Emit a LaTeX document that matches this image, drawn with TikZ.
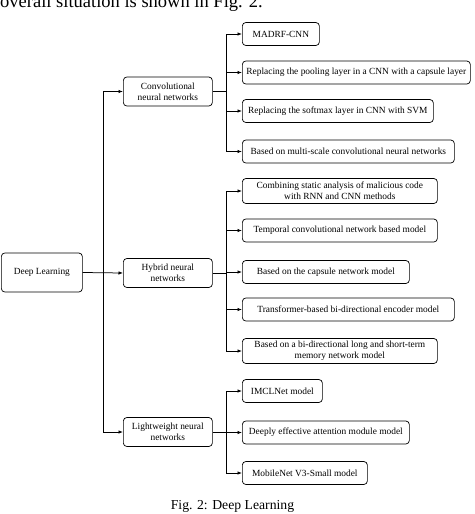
\documentclass[tikz,border=0pt]{standalone}
\usepackage{fontspec}
\setmainfont{Liberation Serif}
\usetikzlibrary{arrows.meta}
\begin{document}
\begin{tikzpicture}[x=1pt,y=-1pt,
  box/.style={draw, rounded corners=3.5pt, line width=0.7pt, inner sep=1pt, align=center,
    font=\fontsize{9.4}{10.6}\selectfont, anchor=west},
  rbox/.style={box, minimum height=23},
  rbox2/.style={box, minimum height=25},
  lbox/.style={box, minimum width=89, minimum height=29},
  arr/.style={line width=0.75pt, -{Latex[length=4.5pt,width=3.5pt]}},
  ln/.style={line width=0.75pt}]
\useasboundingbox (0,0) rectangle (474,514);
% header and caption
\node[anchor=base west, inner sep=0, font=\fontsize{18.5}{20}\selectfont] (top) at (0,7) {overall situation is shown in Fig. 2.};
\node[anchor=base, inner sep=0, font=\fontsize{13.7}{15}\selectfont] (cap) at (232.5,509) {Fig. 2: Deep Learning};
% left column
\node[box, minimum width=81, minimum height=39] (dl) at (1,272.5) {Deep Learning};
\node[lbox] (cnn) at (123,91.5) {Convolutional\\neural networks};
\node[lbox] (hy) at (123,273) {Hybrid neural\\networks};
\node[lbox] (lw) at (123,432) {Lightweight neural\\networks};
% CNN group
\node[rbox, minimum width=77] (c1) at (242,34) {MADRF-CNN};
\node[rbox, minimum width=228] (c2) at (242,72.5) {Replacing the pooling layer in a CNN with a capsule layer};
\node[rbox, minimum width=191] (c3) at (242,111) {Replacing the softmax layer in CNN with SVM};
\node[rbox, minimum width=212] (c4) at (242,151.5) {Based on multi-scale convolutional neural networks};
% hybrid group
\node[rbox2, minimum width=195] (h1) at (242,191) {Combining static analysis of malicious code\\with RNN and CNN methods};
\node[rbox, minimum width=195] (h2) at (242,230.5) {Temporal convolutional network based model};
\node[rbox, minimum width=167] (h3) at (242,272) {Based on the capsule network model};
\node[rbox, minimum width=212] (h4) at (242,309.5) {Transformer-based bi-directional encoder model};
\node[rbox2, minimum width=195] (h5) at (242,351) {Based on a bi-directional long and short-term\\memory network model};
% lightweight group
\node[rbox, minimum width=80] (l1) at (242,391) {IMCLNet model};
\node[rbox, minimum width=167] (l2) at (242,432.5) {Deeply effective attention module model};
\node[rbox, minimum width=125] (l3) at (242,473) {MobileNet V3-Small model};
% junctions
\coordinate (j0) at (103,272.5);
\coordinate (jc) at (226,91.5);
\coordinate (jh) at (226,273);
\coordinate (jl) at (226,432);
% main connectors
\draw[arr] (dl.east) -- (hy.west);
\draw[arr] (j0) |- (cnn.west);
\draw[arr] (j0) |- (lw.west);
% CNN branches
\draw[ln] (cnn.east) -- (jc);
\foreach \n in {c1,c2,c3,c4} \draw[arr] (jc) |- (\n.west);
% hybrid branches
\draw[ln] (hy.east) -- (jh);
\foreach \n in {h1,h2,h3,h4,h5} \draw[arr] (jh) |- (\n.west);
% lightweight branches
\draw[ln] (lw.east) -- (jl);
\foreach \n in {l1,l2,l3} \draw[arr] (jl) |- (\n.west);
\end{tikzpicture}
\end{document}
